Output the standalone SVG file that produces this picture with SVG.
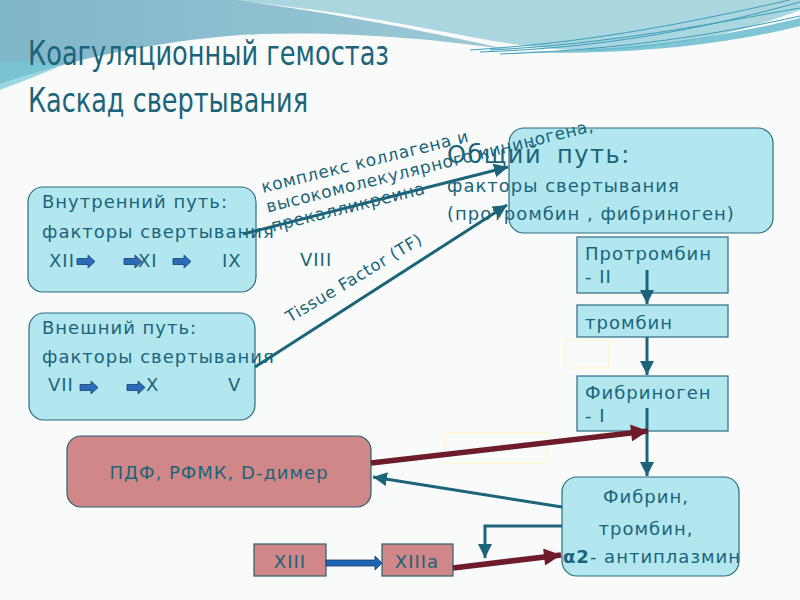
<svg xmlns="http://www.w3.org/2000/svg" width="800" height="600" viewBox="0 0 800 600">
<defs>
<style>
.t{font-family:"DejaVu Sans","Noto Sans",sans-serif;fill:#1b6479;}
.ttl{font-family:"DejaVu Sans Condensed","DejaVu Sans",sans-serif;font-stretch:condensed;fill:#1b6479;}
.bx{font-size:18px;letter-spacing:1px;}
.node{fill:#b2e7ef;stroke:#2b6c82;stroke-width:1.2;}
.rose{fill:#d08787;stroke:#2b5e78;stroke-width:1.2;}
.tl{fill:none;stroke:#1c6479;stroke-width:3;}
.dr{fill:none;stroke:#6e1b2b;stroke-width:5.5;}
.yl{fill:none;stroke:#fbf8c4;stroke-width:1.2;}
</style>
<marker id="ta" viewBox="0 0 10 10" refX="10" refY="5" markerWidth="14" markerHeight="14" markerUnits="userSpaceOnUse" orient="auto">
<path d="M0,0 L10,5 L0,10 Z" fill="#1c6479"/>
</marker>
<marker id="da" viewBox="0 0 10 10" refX="10" refY="5" markerWidth="18" markerHeight="17" markerUnits="userSpaceOnUse" orient="auto">
<path d="M0,0 L10,5 L0,10 Z" fill="#6e1b2b"/>
</marker>
<path id="ba" d="M0,3.5 H11 V0 L18,6.5 L11,13 V9.5 H0 Z" fill="#2a6cb8" stroke="#1a3f6e" stroke-width="0.8"/>
<linearGradient id="gw" x1="0" y1="0" x2="1" y2="0">
<stop offset="0" stop-color="#7fb6c8"/>
<stop offset="1" stop-color="#9cc9d6"/>
</linearGradient>
</defs>
<rect width="800" height="600" fill="#f9fbfb"/>
<g id="background">
<path d="M0,0 H800 V10 C760,25 700,45 600,50 C520,52 450,30 330,12 C300,8 260,3 230,0 Z" fill="#a9d6df"/>
<path d="M0,0 H235 C300,8 400,25 510,50 C430,38 330,30 240,35 C150,42 70,60 0,84 Z" fill="url(#gw)"/>
<path d="M0,62 C20,60 40,62 60,66 C40,75 20,82 0,90 Z" fill="#74c9d6" opacity="0.7"/>
<g fill="none" stroke="#3a9fb8" stroke-width="1">
<path d="M480,52 C600,48 700,30 800,2"/>
<path d="M490,50 C610,44 710,24 800,8"/>
<path d="M500,54 C620,50 720,34 800,16"/>
<path d="M470,50 C600,42 700,20 790,0"/>
</g>
<path d="M510,52 C620,52 720,38 800,18 V26 C720,46 620,56 510,52 Z" fill="#4aaec4" opacity="0.7"/>
</g>
<g id="title" class="ttl">
<text x="28" y="65" font-size="34" textLength="361" lengthAdjust="spacingAndGlyphs">Коагуляционный гемостаз</text>
<text x="28" y="112" font-size="34" textLength="280" lengthAdjust="spacingAndGlyphs">Каскад свертывания</text>
</g>
<g id="intrinsic">
<rect class="node" x="28" y="187" width="228" height="105" rx="15"/>
<text class="t bx" x="42" y="208">Внутренний путь:</text>
<text class="t bx" x="42" y="238">факторы свертывания</text>
<text class="t bx" x="49" y="267">XII</text>
<use href="#ba" x="77" y="255"/>
<use href="#ba" x="124" y="255"/>
<text class="t bx" x="138" y="267">XI</text>
<use href="#ba" x="173" y="255"/>
<text class="t bx" x="222" y="267">IX</text>
<text class="t bx" x="300" y="266">VIII</text>
</g>
<g id="extrinsic">
<rect class="node" x="29" y="313" width="226" height="107" rx="15"/>
<text class="t bx" x="42" y="334">Внешний путь:</text>
<text class="t bx" x="42" y="363">факторы свертывания</text>
<text class="t bx" x="48" y="391">VII</text>
<use href="#ba" x="80" y="381"/>
<use href="#ba" x="127" y="381"/>
<text class="t bx" x="146" y="391">X</text>
<text class="t bx" x="228" y="391">V</text>
</g>
<g id="common">
<rect class="node" x="509" y="128" width="264" height="105" rx="15"/>
</g>
<g id="prothrombin">
<rect class="node" x="577" y="237" width="151" height="56"/>
<text class="t bx" x="585" y="260">Протромбин</text>
<text class="t bx" x="585" y="283">- II</text>
</g>
<g id="thrombin">
<rect class="node" x="577" y="305" width="151" height="32"/>
<text class="t bx" x="585" y="329">тромбин</text>
</g>
<g id="fibrinogen">
<rect class="node" x="577" y="376" width="151" height="55"/>
<text class="t bx" x="585" y="399">Фибриноген</text>
<text class="t bx" x="585" y="422">- I</text>
</g>
<g id="fibrin">
<rect class="node" x="562" y="477" width="177" height="99" rx="15"/>
<text class="t bx" x="646" y="503" text-anchor="middle">Фибрин,</text>
<text class="t bx" x="646" y="535" text-anchor="middle">тромбин,</text>
<text class="t bx" x="563" y="563"><tspan font-weight="bold">α2</tspan>- антиплазмин</text>
</g>
<g id="fdp">
<rect class="rose" x="67" y="436" width="304" height="71" rx="14"/>
<text class="t bx" x="219" y="479" text-anchor="middle">ПДФ, РФМК, D-димер</text>
</g>
<g id="f13">
<rect class="rose" x="254" y="544" width="72" height="32"/>
<text class="t bx" x="290" y="568" text-anchor="middle">XIII</text>
</g>
<g id="f13a">
<rect class="rose" x="382" y="544" width="71" height="32"/>
<text class="t bx" x="417" y="568" text-anchor="middle">XIIIa</text>
</g>
<g id="decor">
<rect class="yl" x="565" y="340" width="44" height="28" rx="3"/>
<rect class="yl" x="445" y="433" width="102" height="30" rx="3"/>
</g>
<g id="connectors">
<line class="tl" x1="243" y1="234" x2="508" y2="167" marker-end="url(#ta)"/>
<line class="tl" x1="255" y1="367" x2="507" y2="205" marker-end="url(#ta)"/>
<line class="tl" x1="647" y1="270" x2="647" y2="304" marker-end="url(#ta)"/>
<line class="tl" x1="647" y1="337" x2="647" y2="375" marker-end="url(#ta)"/>
<line class="tl" x1="647" y1="408" x2="647" y2="476" marker-end="url(#ta)"/>
<line class="tl" x1="562" y1="507" x2="373" y2="477" marker-end="url(#ta)"/>
<path class="tl" d="M562,526 H485 V558" marker-end="url(#ta)"/>
<line class="dr" x1="371" y1="463" x2="648" y2="431" marker-end="url(#da)"/>
<line class="dr" x1="453" y1="568" x2="561" y2="555" marker-end="url(#da)"/>
<path d="M326,560 H375 V556 L382,563 L375,570 V566 H326 Z" fill="#1d66b6" stroke="#173e6b" stroke-width="0.8"/>
</g>
<g id="labels" class="t">
<text font-size="17" letter-spacing="0.6" transform="translate(263,193) rotate(-14)"><tspan x="0" y="0">комплекс коллагена и</tspan><tspan x="0" y="20">высокомолекулярного кининогена,</tspan><tspan x="0" y="40">прекалликреина</tspan></text>
<text font-size="16.5" letter-spacing="0.6" transform="translate(290,323) rotate(-31)">Tissue Factor (TF)</text>
<text font-size="24" letter-spacing="1.5" word-spacing="6" x="447" y="163">Общий путь:</text>
<text class="bx" x="447" y="192">факторы свертывания</text>
<text class="bx" x="447" y="220">(протромбин , фибриноген)</text>
</g>
</svg>
